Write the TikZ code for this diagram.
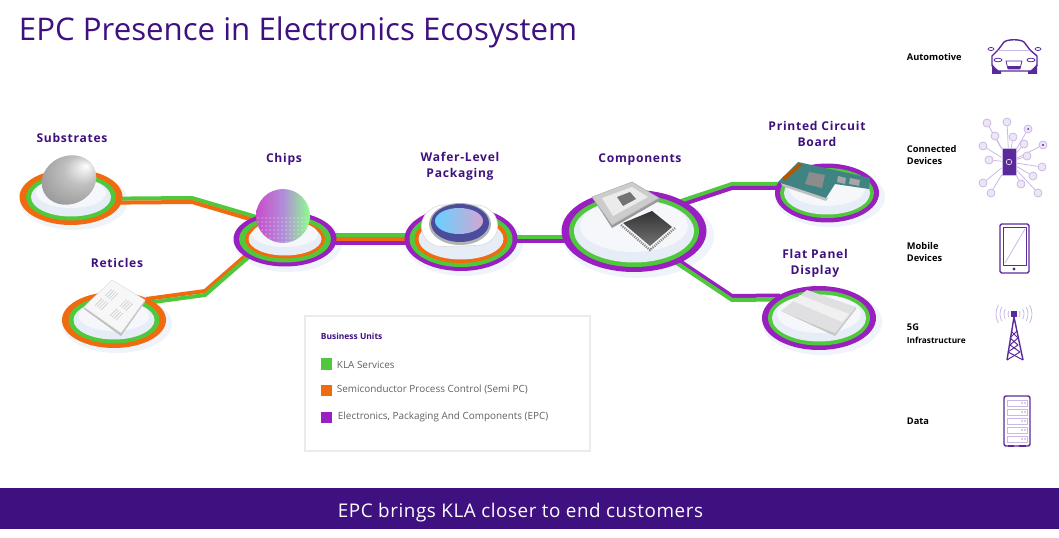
\documentclass[tikz,border=0pt]{standalone}
\usepackage{fontspec}
\setmainfont{Open Sans}
\newfontfamily\spacedfont[LetterSpace=6]{Open Sans}
\newfontfamily\bandfont[LetterSpace=3]{Open Sans}
\usetikzlibrary{shapes.geometric,backgrounds}
\definecolor{klagreen}{HTML}{4FC83C}
\definecolor{klaorange}{HTML}{F26A0F}
\definecolor{klapurple}{HTML}{9A1FC0}
\definecolor{kladark}{HTML}{3F1080}
\definecolor{platelow}{HTML}{E6EDF6}
\definecolor{platetop}{HTML}{F5F7FB}
\definecolor{shadowblue}{HTML}{EFF3FA}
\definecolor{iconline}{HTML}{5B2A9A}
\definecolor{iconsoft}{HTML}{CBB8E4}
\pgfdeclareradialshading{silverball}{\pgfpoint{14bp}{16bp}}{color(0bp)=(white);color(14bp)=(black!25);color(34bp)=(black!42);color(50bp)=(black!28)}
\tikzset{
	disc/.style n args={3}{ellipse,draw=none,inner sep=0pt,outer sep=0pt,fill=#1,minimum width=#2*0.25mm,minimum height=#3*0.25mm},
	trace/.style={line width=1mm,line join=miter,shorten <=-1.2mm,shorten >=-1.2mm},
	stagelabel/.style={text=kladark,font=\spacedfont\bfseries\fontsize{8.6}{11.2}\selectfont,align=center},
	marketlabel/.style={anchor=west,text=black,font=\bfseries\fontsize{6.6}{9}\selectfont,align=left},
	legendkey/.style={draw=none,fill=#1,minimum size=2.75mm,inner sep=0pt},
	legendtext/.style={anchor=west,text=black!62,font=\fontsize{7.05}{8}\selectfont},
	icon/.style={draw=iconline,line width=0.35mm,line join=round},
	soft/.style={draw=iconsoft,line width=0.2mm},
	satellite/.style={circle,draw=iconsoft,fill=iconsoft!35,line width=0.2mm,minimum size=2mm,inner sep=0pt}
}
\begin{document}
\begin{tikzpicture}[x=0.25mm,y=-0.25mm]
	\useasboundingbox (0,0) rectangle (1059,538);
	\node[anchor=west,text=kladark,font=\fontsize{22.2}{26}\selectfont] (title) at (14,32) {EPC Presence in Electronics Ecosystem};

	\node[disc={klaorange}{103}{56}] (sub) at (71,197) {};
	\node[disc={klagreen}{90}{47}] (subgreen) at (sub) {};
	\node[disc={platelow}{80}{39}] (subplate) at (sub) {};
	\node[disc={platetop}{70}{30}] (subtop) at (71,193) {};

	\node[disc={klaorange}{104}{56}] (ret) at (114,320) {};
	\node[disc={klagreen}{91}{47}] (retgreen) at (ret) {};
	\node[disc={platelow}{81}{39}] (retplate) at (ret) {};
	\node[disc={platetop}{71}{30}] (rettop) at (114,316) {};

	\node[disc={klapurple}{103}{55}] (chips) at (285,239) {};
	\node[disc={klagreen}{92}{47}] (chipsgreen) at (chips) {};
	\node[disc={klaorange}{80}{39}] (chipsorange) at (chips) {};
	\node[disc={platelow}{73}{33}] (chipsplate) at (chips) {};
	\node[disc={platetop}{66}{26}] (chipstop) at (285,234) {};

	\node[disc={klapurple}{113}{64}] (wlp) at (461,239) {};
	\node[disc={klagreen}{103}{56}] (wlpgreen) at (wlp) {};
	\node[disc={klaorange}{93}{48}] (wlporange) at (wlp) {};
	\node[disc={platelow}{85}{41}] (wlpplate) at (wlp) {};

	\node[disc={klapurple}{145}{82}] (comp) at (634,231) {};
	\node[disc={klagreen}{130}{72}] (compgreen) at (comp) {};
	\node[disc={platelow}{120}{63}] (compplate) at (comp) {};
	\node[disc={platetop}{108}{52}] (comptop) at (634,226) {};

	\node[disc={klapurple}{104}{59}] (pcb) at (827,193) {};
	\node[disc={klagreen}{94}{50}] (pcbgreen) at (pcb) {};
	\node[disc={platelow}{86}{43}] (pcbplate) at (pcb) {};
	\node[disc={platetop}{76}{34}] (pcbtop) at (827,189) {};

	\node[disc={klapurple}{114}{64}] (fpd) at (819,318) {};
	\node[disc={klagreen}{102}{55}] (fpdgreen) at (fpd) {};
	\node[disc={platelow}{94}{47}] (fpdplate) at (fpd) {};
	\node[disc={platetop}{84}{38}] (fpdtop) at (819,314) {};

	\coordinate (subbend) at (192,200);
	\coordinate (retbend) at (205,293);
	\coordinate (pcbbend) at (732,186);
	\coordinate (fpdbend) at (732,298);

	\begin{scope}[on background layer]
		\foreach \x/\y/\rx/\ry in {74/201/54/29,117/324/55/29,288/243/54/29,464/243/59/33,638/236/76/42,830/197/55/30,822/322/60/33}{
			\fill[shadowblue] (\x,\y) ellipse ({\rx} and {\ry});
		}
		\draw[trace,draw=klagreen,transform canvas={yshift=0.5mm}] (sub.-4) -- (subbend) -- (chips.147);
		\draw[trace,draw=klaorange,transform canvas={yshift=-0.5mm}] (sub.-4) -- (subbend) -- (chips.147);
		\draw[trace,draw=klaorange,transform canvas={yshift=0.5mm}] (ret.28) -- (retbend) -- (chips.205);
		\draw[trace,draw=klagreen,transform canvas={yshift=-0.5mm}] (ret.28) -- (retbend) -- (chips.205);
		\draw[trace,draw=klagreen,transform canvas={yshift=0.9mm}] (chips.east) -- (wlp.west);
		\draw[trace,draw=klaorange] (chips.east) -- (wlp.west);
		\draw[trace,draw=klapurple,transform canvas={yshift=-0.9mm}] (chips.east) -- (wlp.west);
		\draw[trace,draw=klagreen,transform canvas={yshift=0.5mm}] (wlp.east) -- (wlp.east -| comp.west);
		\draw[trace,draw=klapurple,transform canvas={yshift=-0.5mm}] (wlp.east) -- (wlp.east -| comp.west);
		\draw[trace,draw=klagreen,transform canvas={yshift=0.5mm}] (comp.30) -- (pcbbend) -- (pcb.172);
		\draw[trace,draw=klapurple,transform canvas={yshift=-0.5mm}] (comp.30) -- (pcbbend) -- (pcb.172);
		\draw[trace,draw=klapurple,transform canvas={yshift=0.5mm}] (comp.-35) -- (fpdbend) -- (fpd.155);
		\draw[trace,draw=klagreen,transform canvas={yshift=-0.5mm}] (comp.-35) -- (fpdbend) -- (fpd.155);
	\end{scope}

	\shade[shading=silverball,rotate around={25:(69,180)}] (69,180) ellipse (28 and 24);
	\shade[left color=violet!60!magenta!70,right color=green!45!white,middle color=blue!35!violet!45] (283,216) ellipse (27 and 27);
	\begin{scope}
		\clip (283,216) ellipse (27 and 27);
		\foreach \x in {258,262,...,310}{
			\foreach \y in {218,222,...,244}{
				\fill[white,opacity=0.3] (\x,\y) circle (1);
			}
		}
	\end{scope}

	\fill[white,draw=black!15,rounded corners=8pt] (418,225) -- (432,205) -- (488,205) -- (501,225) -- (490,245) -- (430,247) -- cycle;
	\fill[black!30] (460,224) ellipse (31 and 21);
	\fill[blue!45!black!70] (460,223) ellipse (29 and 19);
	\shade[left color=cyan!70!blue!60,right color=violet!35] (459,221) ellipse (24 and 13);

	\fill[black!25] (84,309) -- (121,336) -- (145,302) -- (145,300) -- (121,333) -- (84,307) -- cycle;
	\fill[black!3,draw=black!12] (112,280) -- (145,300) -- (121,333) -- (84,307) -- cycle;
	\foreach \p/\q in {0.2/0.15,0.55/0.15,0.2/0.55,0.55/0.55}{
		\foreach \s in {0,2,4,6}{
			\draw[black!20,line width=0.15mm] ({84+\p*28+\q*37+\s},{307-\p*27+\q*26+\s*0.7}) -- ++(7,-7);
		}
	}

	\fill[black!40] (592,197) -- (612,228) -- (659,201) -- (659,198) -- (612,225) -- cycle;
	\fill[black!20,draw=black!30] (592,197) -- (632,182) -- (659,198) -- (612,225) -- cycle;
	\fill[black!8] (602,198) -- (632,187) -- (648,197) -- (613,216) -- cycle;
	\fill[black!55] (617,197) -- (630,192) -- (636,199) -- (623,206) -- cycle;
	\draw[black!45,line width=0.6mm,dash pattern=on 0.3mm off 0.25mm] (621,225) -- (650,250) -- (675,228);
	\shade[top color=black!80,bottom color=black!55] (623,223) -- (650,246) -- (672,227) -- (652,211) -- cycle;

	\fill[black!25] (782,186) -- (826,201) -- (828,198) -- (781,183) -- cycle;
	\fill[teal!70!black!75] (778,182) -- (798,162) -- (870,178) -- (869,189) -- (835,184) -- (826,198) -- cycle;
	\fill[orange!70!black] (782,178) -- (799,163) -- (802,165) -- (785,181) -- cycle;
	\fill[black!45] (809,172) -- (825,175) -- (822,188) -- (805,184) -- cycle;
	\fill[black!35] (838,176) -- (846,178) -- (845,184) -- (837,182) -- cycle;
	\fill[black!35] (850,178) -- (860,180) -- (859,186) -- (849,184) -- cycle;

	\fill[black!22] (781,311) -- (835,336) -- (856,309) -- (856,307) -- (835,333) -- cycle;
	\fill[blue!10!black!12] (781,311) -- (807,290) -- (856,307) -- (835,333) -- cycle;
	\fill[blue!5!black!6] (793,301) -- (800,295) -- (849,314) -- (842,322) -- cycle;

	\node[stagelabel] (sublabel) at (72,138) {Substrates};
	\node[stagelabel] (retlabel) at (117,263) {Reticles};
	\node[stagelabel] (chipslabel) at (284,159.5) {Chips};
	\node[stagelabel] (wlplabel) at (460,166.5) {Wafer-Level\\Packaging};
	\node[stagelabel] (complabel) at (640,159.5) {Components};
	\node[stagelabel] (pcblabel) at (817,134) {Printed Circuit\\Board};
	\node[stagelabel] (fpdlabel) at (815,263) {Flat Panel\\Display};

	\draw[black!8,fill=white,line width=0.4mm] (305,316) rectangle (590,451);
	\node[anchor=west,text=kladark,font=\bfseries\fontsize{6}{8}\selectfont] (legendtitle) at (316,336) {Business Units};
	\node[legendkey=klagreen] (keygreen) at (326.5,364) {};
	\node[legendkey=klaorange] (keyorange) at (326.5,390) {};
	\node[legendkey=klapurple] (keypurple) at (326.5,417) {};
	\node[legendtext] (textgreen) at (332,364.5) {KLA Services};
	\node[legendtext] (textorange) at (332,389.5) {Semiconductor Process Control (Semi PC)};
	\node[legendtext] (textpurple) at (333,417) {Electronics, Packaging And Components (EPC)};

	\node[marketlabel] (automotive) at (902,57.5) {Automotive};
	\node[marketlabel] (connected) at (902,155) {Connected\\Devices};
	\node[marketlabel] (mobile) at (902,252) {Mobile\\Devices};
	\node[marketlabel] (infra) at (902,334) {5G\\{\fontsize{5.9}{9}\selectfont Infrastructure}};
	\node[marketlabel] (datalabel) at (902,421.5) {Data};

	\draw[icon] (992,66) -- (992,56) -- (998,50) -- (1004,42) .. controls (1008,39) and (1020,39) .. (1024,42) -- (1030,50) -- (1037,56) -- (1037,66);
	\draw[icon] (992,66) -- (998,71) -- (1031,71) -- (1037,66);
	\fill[iconline] (992,64) -- (998,71) -- (1001,71) -- (1001,74) -- (992,74) -- cycle;
	\fill[iconline] (1037,64) -- (1031,71) -- (1028,71) -- (1028,74) -- (1037,74) -- cycle;
	\draw[soft] (998,50) -- (1030,50);
	\draw[icon,line width=0.2mm] (991,49) ellipse (3 and 1.5);
	\draw[icon,line width=0.2mm] (1038,49) ellipse (3 and 1.5);
	\draw[icon,line width=0.2mm] (998,60) ellipse (4 and 1.8);
	\draw[icon,line width=0.2mm] (1031,60) ellipse (4 and 1.8);
	\draw[icon,line width=0.2mm] (1006,61) -- (1022,61) -- (1020,69) -- (1008,69) -- cycle;
	\fill[iconline] (1008,66) rectangle (1020,69);

	\node[draw=iconsoft,fill=iconline,minimum width=3.5mm,minimum height=6.75mm,inner sep=0pt,line width=0.25mm] (hub) at (1009,162) {};
	\node[circle,draw=white,minimum size=1.4mm,inner sep=0pt] (hubhome) at (hub) {};
	\foreach \i/\x/\y in {1/987/123,2/1007/122,3/995/136,4/1028/129,5/1013/137,6/983/146,7/1024/144,8/1043/145,9/1027/156,10/989/160,11/1042/167,12/1033/176,13/1021/184,14/983/183,15/1038/193,16/991/193}{
		\node[satellite] (sat\i) at (\x,\y) {};
		\draw[soft] (hub) -- (sat\i);
	}
	\fill[iconline] (sat4) circle (1);
	\fill[iconline] (sat8) circle (1.2);

	\draw[icon,rounded corners=1.2pt] (1000,224) rectangle (1029,273);
	\draw[icon,line width=0.2mm] (1003,227) rectangle (1026,265);
	\draw[soft] (1005,263) -- (1025,229);
	\fill[iconline] (1014,269) circle (1.6);

	\fill[iconline] (1011,311) rectangle (1017,317);
	\draw[icon] (1007,360) -- (1014,317) -- (1023,360);
	\draw[icon,line width=0.25mm] (1011,331) -- (1018,338) -- (1010,345) -- (1020,352) -- (1007,360);
	\draw[icon,line width=0.25mm] (1017,331) -- (1010,338) -- (1018,345) -- (1008,352) -- (1023,360);
	\foreach \r in {6,10,14,18}{
		\draw[soft] (1014,314) ++(30:\r) arc (30:-30:\r);
		\draw[soft] (1014,314) ++(150:\r) arc (150:210:\r);
	}

	\draw[icon,rounded corners=1.5pt] (1004,396) rectangle (1030,446);
	\foreach \y in {400,409,418,427,436}{
		\draw[soft] (1007,\y) rectangle (1027,\y+6);
		\fill[iconline] (1022,\y+3) circle (0.7);
		\fill[iconline] (1025,\y+3) circle (0.7);
	}
	\fill[iconline] (1008,445) rectangle (1014,447);
	\fill[iconline] (1019,445) rectangle (1026,447);

	\node[fill=kladark,minimum width=264.75mm,minimum height=10.25mm,inner sep=0pt] (band) at (529.5,508.5) {};
	\node[text=white,font=\bandfont\fontsize{13.4}{15}\selectfont] (bandtext) at (520.5,512.5) {EPC brings KLA closer to end customers};
\end{tikzpicture}
\end{document}
